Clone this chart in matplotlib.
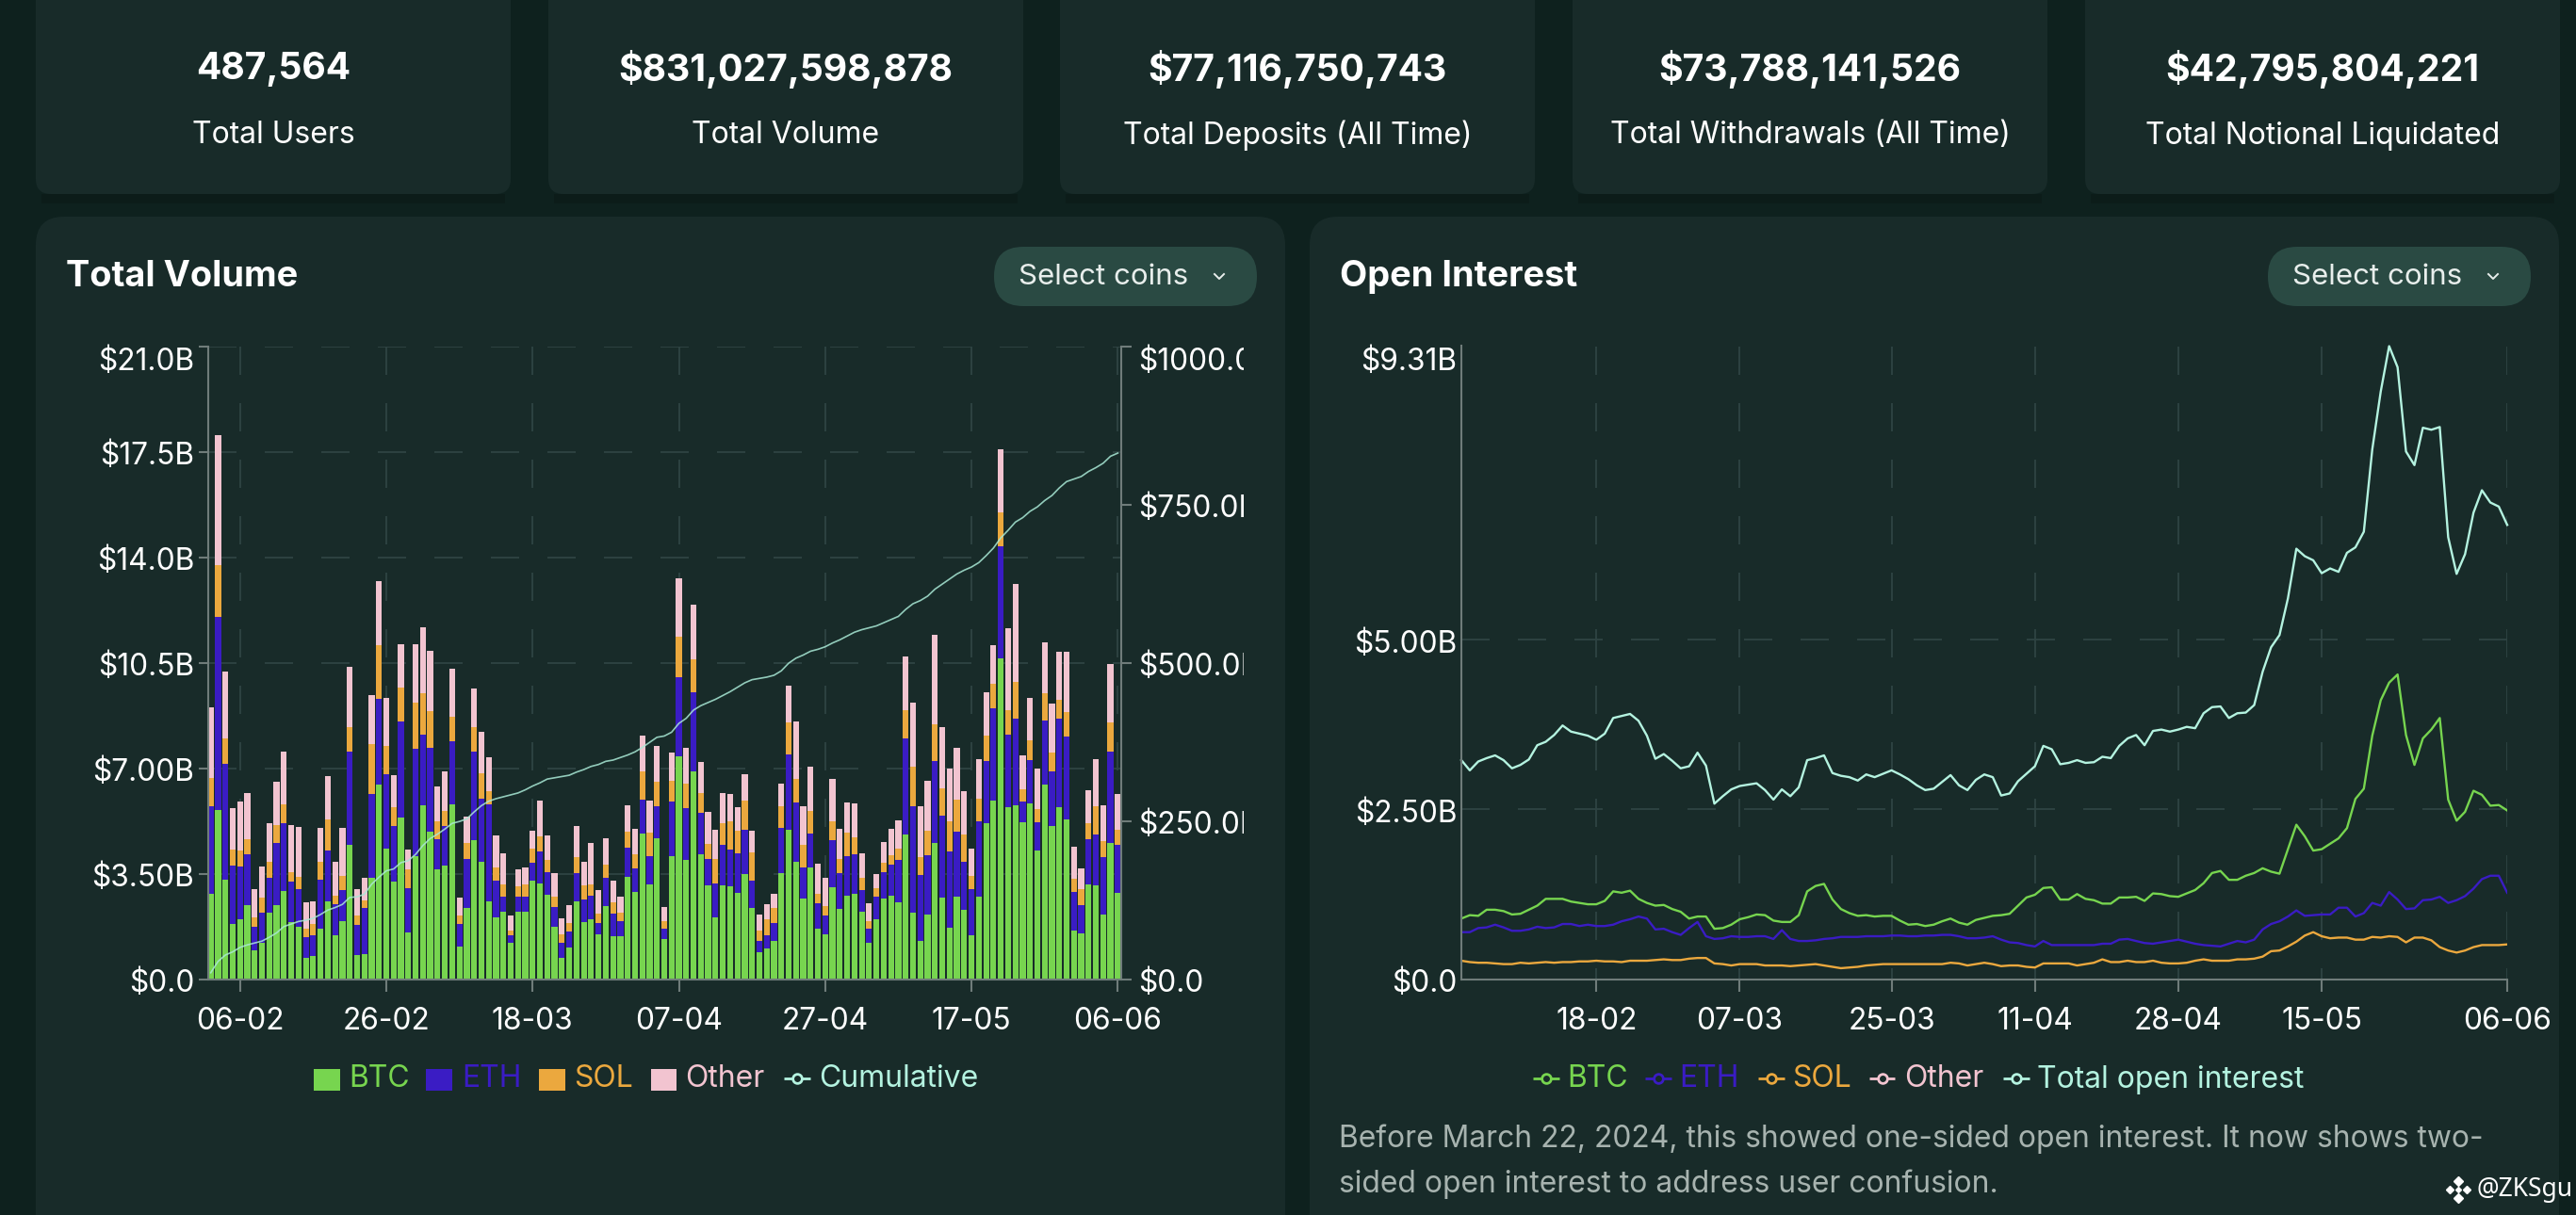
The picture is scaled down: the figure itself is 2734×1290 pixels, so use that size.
#!/usr/bin/env python3
"""Dashboard screenshot: stat cards, total volume bars and open interest lines."""

import matplotlib
matplotlib.use("Agg")
import matplotlib.pyplot as plt
import numpy as np
from matplotlib.patches import FancyBboxPatch, Rectangle
from matplotlib.transforms import Bbox, ScaledTranslation

W, H = 2734, 1290

PAGE = "#0e211e"
CARD = "#182b29"
BUTTON = "#2a4a43"
GRID = "#2f4443"
AXIS = "#6f7c7a"
C_BTC = "#77d54f"
C_ETH = "#3a1cc4"
C_SOL = "#eba83e"
C_OTHER = "#f2c4d0"
C_CUM = "#a9e9d6"
C_TOTAL = "#b4f3e0"

stat_values = ["487,564", "$831,027,598,878", "$77,116,750,743", "$73,788,141,526", "$42,795,804,221"]
stat_labels = ["Total Users", "Total Volume", "Total Deposits (All Time)",
               "Total Withdrawals (All Time)", "Total Notional Liquidated"]

# daily volume in $B
btc_volume = [
    2.84, 5.61, 3.29, 1.83, 1.97, 2.45, 0.95, 1.20, 2.19, 2.45,
    2.93, 1.90, 1.74, 0.71, 0.77, 1.67, 2.59, 1.45, 1.92, 4.46,
    0.81, 0.84, 3.37, 6.46, 4.34, 3.22, 5.35, 1.55, 4.09, 5.77,
    4.88, 3.64, 3.76, 5.81, 1.07, 2.37, 4.60, 3.89, 2.59, 2.06,
    2.22, 1.20, 2.23, 2.22, 3.28, 3.17, 2.80, 1.73, 0.71, 1.05,
    2.57, 1.90, 1.98, 1.49, 2.43, 1.42, 1.41, 3.40, 2.89, 4.82,
    3.15, 4.67, 1.32, 4.07, 7.39, 3.95, 6.89, 4.13, 3.11, 2.05,
    3.12, 3.08, 2.86, 3.49, 2.37, 0.88, 1.02, 1.27, 3.51, 4.94,
    3.89, 2.66, 3.70, 1.67, 1.49, 3.05, 2.33, 2.76, 2.83, 2.24,
    1.21, 1.97, 2.66, 2.76, 2.55, 4.80, 2.20, 1.27, 2.13, 4.52,
    2.71, 1.70, 2.75, 2.30, 1.45, 2.72, 5.17, 5.93, 10.64, 5.70,
    5.76, 5.20, 5.83, 4.27, 6.46, 5.08, 5.69, 5.31, 1.60, 1.53,
    3.15, 3.11, 2.15, 4.52, 2.86,
]
eth_volume = [
    2.89, 6.41, 3.85, 1.94, 1.76, 1.69, 0.78, 0.99, 1.17, 2.08,
    2.23, 1.34, 1.24, 0.68, 0.67, 1.62, 1.67, 1.02, 1.03, 3.10,
    1.00, 1.53, 2.76, 2.84, 2.45, 1.87, 3.19, 1.48, 3.54, 2.33,
    2.80, 1.00, 1.32, 2.08, 0.75, 1.62, 2.96, 2.11, 3.22, 1.20,
    0.53, 0.25, 0.50, 0.52, 0.59, 1.05, 0.75, 0.67, 0.50, 0.54,
    0.95, 0.75, 0.78, 0.38, 0.93, 0.74, 0.52, 0.95, 0.79, 1.13,
    0.92, 1.06, 0.35, 1.83, 2.64, 1.72, 2.64, 1.38, 0.88, 1.12,
    1.32, 1.21, 1.32, 1.46, 0.89, 0.39, 0.43, 0.59, 1.51, 2.51,
    1.97, 1.05, 1.14, 0.84, 0.61, 1.56, 1.20, 1.32, 1.30, 0.71,
    0.46, 0.78, 0.88, 1.03, 1.39, 3.18, 3.53, 2.18, 1.98, 2.72,
    2.71, 2.55, 2.15, 1.60, 1.53, 2.50, 2.06, 3.07, 3.72, 2.41,
    2.87, 0.68, 1.45, 0.92, 2.12, 1.81, 2.94, 2.73, 1.28, 0.91,
    1.49, 1.69, 1.91, 3.04, 1.58,
]
sol_volume = [
    0.93, 1.73, 0.86, 0.53, 0.54, 0.50, 0.32, 0.52, 0.52, 0.57,
    0.63, 0.31, 0.42, 0.29, 0.39, 0.61, 1.03, 0.31, 0.47, 0.79,
    0.29, 0.24, 1.66, 1.78, 0.96, 0.60, 1.14, 0.60, 1.55, 1.38,
    1.21, 0.59, 0.49, 0.81, 0.28, 0.54, 0.79, 0.82, 0.42, 0.43,
    0.40, 0.17, 0.36, 0.39, 0.45, 0.50, 0.40, 0.32, 0.26, 0.26,
    0.54, 0.47, 0.39, 0.29, 0.43, 0.40, 0.28, 0.53, 0.47, 0.93,
    0.78, 0.82, 0.26, 0.67, 1.32, 0.82, 1.07, 0.66, 0.49, 0.82,
    0.74, 0.93, 0.73, 0.96, 0.93, 0.33, 0.52, 0.49, 0.71, 1.06,
    0.79, 0.75, 0.73, 0.32, 0.32, 0.64, 0.45, 0.78, 0.57, 0.42,
    0.24, 0.26, 0.32, 0.31, 0.39, 0.93, 1.32, 0.60, 0.81, 1.21,
    0.92, 0.99, 1.05, 0.89, 0.45, 0.77, 0.86, 0.79, 1.14, 0.81,
    1.24, 0.42, 0.64, 0.45, 0.91, 0.64, 0.64, 0.81, 0.46, 0.54,
    0.54, 0.92, 0.52, 0.96, 0.50,
]
other_volume = [
    2.36, 4.31, 2.20, 1.38, 1.62, 1.52, 0.93, 1.02, 1.28, 1.46,
    1.77, 1.55, 1.65, 0.86, 0.74, 1.13, 1.46, 1.10, 1.59, 2.01,
    0.89, 0.74, 1.62, 2.11, 1.59, 1.09, 1.44, 0.66, 1.92, 2.19,
    2.01, 1.16, 1.31, 1.60, 0.59, 0.85, 1.30, 1.39, 1.13, 1.09,
    1.03, 0.50, 0.54, 0.57, 0.60, 1.20, 0.82, 0.79, 0.56, 0.60,
    1.02, 0.78, 1.38, 0.79, 0.88, 0.71, 0.54, 0.88, 0.84, 1.20,
    1.06, 1.17, 0.47, 0.95, 1.94, 1.17, 1.83, 1.03, 1.06, 0.95,
    1.00, 0.93, 0.78, 0.89, 0.73, 0.54, 0.50, 0.47, 0.77, 1.21,
    1.91, 1.28, 1.48, 0.99, 0.95, 1.39, 0.99, 0.99, 1.12, 0.79,
    0.61, 0.49, 0.70, 0.88, 0.95, 1.80, 2.12, 1.70, 1.65, 2.98,
    2.02, 1.74, 1.73, 1.46, 0.91, 1.31, 1.42, 1.30, 2.08, 2.71,
    3.25, 1.12, 1.42, 1.35, 1.67, 1.60, 1.58, 2.01, 1.05, 0.70,
    1.09, 1.58, 1.20, 1.92, 1.19,
]
cumulative = [
    10, 28, 38, 43, 50, 54, 57, 60, 66, 73,
    83, 87, 91, 93, 96, 102, 109, 113, 118, 129,
    130, 134, 150, 161, 171, 174, 184, 187, 197, 211,
    222, 229, 237, 246, 249, 253, 264, 274, 281, 285,
    288, 291, 294, 299, 305, 310, 316, 318, 320, 322,
    327, 331, 336, 339, 344, 346, 350, 354, 359, 366,
    374, 382, 384, 390, 404, 412, 425, 432, 437, 442,
    448, 454, 461, 468, 473, 475, 477, 480, 487, 499,
    507, 512, 518, 521, 525, 531, 536, 542, 548, 552,
    555, 558, 563, 568, 573, 584, 593, 598, 605, 616,
    624, 632, 640, 646, 651, 658, 669, 681, 697, 709,
    722, 729, 739, 746, 756, 764, 776, 786, 790, 794,
    802, 808, 815, 826, 831,
]
volume_tick_idx = [4, 24, 44, 64, 84, 104, 124]
volume_tick_labels = ["06-02", "26-02", "18-03", "07-04", "27-04", "17-05", "06-06"]
volume_yticks = [3.5, 7.0, 10.5, 14.0, 17.5]
volume_ylabels = ["$3.50B", "$7.00B", "$10.5B", "$14.0B", "$17.5B"]
cum_yticks = [250, 500, 750]
cum_ylabels = ["$250.0B", "$500.0B", "$750.0B"]

# open interest in $B
oi_total = [
    3.22, 3.07, 3.20, 3.25, 3.29, 3.22, 3.10, 3.15, 3.23, 3.44,
    3.49, 3.59, 3.73, 3.64, 3.61, 3.58, 3.52, 3.61, 3.84, 3.87,
    3.90, 3.80, 3.58, 3.24, 3.31, 3.21, 3.10, 3.13, 3.33, 3.14,
    2.58, 2.69, 2.79, 2.84, 2.86, 2.88, 2.78, 2.64, 2.79, 2.69,
    2.82, 3.22, 3.25, 3.29, 3.03, 2.99, 2.97, 2.92, 3.01, 2.97,
    3.02, 3.07, 3.01, 2.94, 2.85, 2.78, 2.80, 2.90, 3.00, 2.85,
    2.78, 2.93, 3.01, 2.97, 2.70, 2.73, 2.91, 3.02, 3.13, 3.43,
    3.38, 3.16, 3.18, 3.22, 3.18, 3.19, 3.27, 3.25, 3.43, 3.54,
    3.59, 3.44, 3.65, 3.67, 3.64, 3.67, 3.71, 3.69, 3.91, 4.00,
    4.01, 3.84, 3.91, 3.92, 4.03, 4.52, 4.88, 5.06, 5.60, 6.33,
    6.22, 6.16, 5.97, 6.04, 5.99, 6.27, 6.35, 6.58, 7.79, 8.64,
    9.31, 9.00, 7.76, 7.56, 8.11, 8.08, 8.12, 6.50, 5.96, 6.25,
    6.86, 7.19, 7.01, 6.95, 6.68,
]
oi_btc = [
    0.89, 0.94, 0.93, 1.02, 1.02, 1.00, 0.95, 0.96, 1.02, 1.08,
    1.18, 1.18, 1.18, 1.14, 1.12, 1.10, 1.10, 1.15, 1.29, 1.27,
    1.30, 1.18, 1.12, 1.08, 1.09, 1.03, 0.99, 0.89, 0.92, 0.92,
    0.74, 0.75, 0.80, 0.88, 0.91, 0.95, 0.94, 0.86, 0.84, 0.84,
    0.94, 1.29, 1.37, 1.40, 1.17, 1.03, 0.97, 0.93, 0.94, 0.92,
    0.93, 0.93, 0.86, 0.80, 0.81, 0.78, 0.80, 0.85, 0.89, 0.83,
    0.80, 0.87, 0.90, 0.93, 0.94, 0.96, 1.08, 1.20, 1.24, 1.34,
    1.35, 1.17, 1.17, 1.25, 1.18, 1.16, 1.11, 1.11, 1.20, 1.20,
    1.21, 1.15, 1.26, 1.25, 1.22, 1.21, 1.26, 1.31, 1.41, 1.56,
    1.59, 1.46, 1.46, 1.52, 1.56, 1.63, 1.58, 1.55, 1.91, 2.27,
    2.10, 1.89, 1.91, 1.99, 2.07, 2.22, 2.65, 2.80, 3.58, 4.10,
    4.36, 4.48, 3.59, 3.15, 3.54, 3.67, 3.84, 2.64, 2.33, 2.46,
    2.77, 2.71, 2.55, 2.56, 2.48,
]
oi_eth = [
    0.69, 0.69, 0.75, 0.76, 0.80, 0.76, 0.71, 0.71, 0.73, 0.77,
    0.75, 0.76, 0.81, 0.81, 0.78, 0.80, 0.78, 0.78, 0.80, 0.85,
    0.88, 0.92, 0.89, 0.73, 0.74, 0.69, 0.65, 0.75, 0.84, 0.63,
    0.59, 0.60, 0.63, 0.62, 0.62, 0.63, 0.63, 0.59, 0.72, 0.59,
    0.56, 0.56, 0.57, 0.59, 0.60, 0.62, 0.62, 0.62, 0.63, 0.63,
    0.63, 0.64, 0.64, 0.63, 0.63, 0.64, 0.64, 0.65, 0.65, 0.63,
    0.60, 0.60, 0.61, 0.63, 0.58, 0.54, 0.53, 0.50, 0.48, 0.56,
    0.50, 0.50, 0.50, 0.50, 0.50, 0.50, 0.52, 0.52, 0.58, 0.59,
    0.56, 0.53, 0.52, 0.54, 0.56, 0.58, 0.55, 0.52, 0.50, 0.49,
    0.48, 0.52, 0.56, 0.54, 0.58, 0.73, 0.81, 0.85, 0.92, 1.01,
    0.93, 0.94, 0.95, 0.95, 1.05, 1.05, 0.92, 0.97, 1.12, 1.08,
    1.28, 1.17, 1.03, 1.04, 1.16, 1.17, 1.21, 1.12, 1.16, 1.22,
    1.33, 1.47, 1.52, 1.52, 1.27,
]
oi_sol = [
    0.27, 0.25, 0.24, 0.24, 0.23, 0.22, 0.22, 0.24, 0.23, 0.24,
    0.25, 0.24, 0.25, 0.25, 0.26, 0.26, 0.27, 0.26, 0.26, 0.25,
    0.27, 0.27, 0.27, 0.28, 0.29, 0.28, 0.28, 0.30, 0.31, 0.31,
    0.23, 0.22, 0.20, 0.22, 0.22, 0.22, 0.20, 0.20, 0.20, 0.19,
    0.20, 0.21, 0.22, 0.20, 0.18, 0.16, 0.17, 0.18, 0.20, 0.21,
    0.22, 0.22, 0.22, 0.22, 0.22, 0.22, 0.22, 0.22, 0.24, 0.23,
    0.20, 0.22, 0.24, 0.22, 0.19, 0.20, 0.20, 0.18, 0.17, 0.23,
    0.23, 0.23, 0.23, 0.20, 0.22, 0.24, 0.29, 0.25, 0.25, 0.27,
    0.25, 0.25, 0.27, 0.24, 0.23, 0.23, 0.24, 0.27, 0.29, 0.27,
    0.27, 0.27, 0.29, 0.29, 0.30, 0.33, 0.41, 0.42, 0.48, 0.55,
    0.64, 0.69, 0.63, 0.60, 0.61, 0.61, 0.58, 0.58, 0.62, 0.61,
    0.63, 0.62, 0.54, 0.61, 0.61, 0.57, 0.47, 0.42, 0.39, 0.42,
    0.47, 0.50, 0.50, 0.50, 0.51,
]
oi_tick_idx = [16, 33, 51, 68, 85, 102, 124]
oi_tick_labels = ["18-02", "07-03", "25-03", "11-04", "28-04", "15-05", "06-06"]
oi_yticks = [2.5, 5.0]
oi_ylabels = ["$2.50B", "$5.00B"]

plt.rcParams["font.family"] = ["Inter", "DejaVu Sans"]
plt.rcParams["lines.scale_dashes"] = False

DASH = 30 * 72 / 100  # 30 px on, 30 px off
HGRID = (0, (DASH, DASH))
VGRID = (18 * 72 / 100, (DASH, DASH))  # drawn upwards, ends on a full dash at the top of the plot
TICK_SIZE = 22.8
LEGEND_SIZE = 23
NOTE_SIZE = 22.9


def add_axes_px(x0, y0, x1, y1, **kwargs):
    return fig.add_axes([x0 / W, 1 - y1 / H, (x1 - x0) / W, (y1 - y0) / H], **kwargs)


fig = plt.figure(figsize=(W / 100, H / 100), dpi=100, facecolor=PAGE)

# page layer in pixel coordinates
page = fig.add_axes([0, 0, 1, 1], zorder=0)
page.set_xlim(0, W)
page.set_ylim(H, 0)
page.axis("off")


def round_box(x0, y0, x1, y1, radius, color):
    page.add_patch(FancyBboxPatch((x0 + radius, y0 + radius), x1 - x0 - 2 * radius, y1 - y0 - 2 * radius,
                                  boxstyle=f"round,pad={radius},rounding_size={radius}",
                                  fc=color, ec="none"))


card_lefts = [38, 582, 1125, 1669, 2213]
for left, value, label in zip(card_lefts, stat_values, stat_labels):
    page.add_patch(Rectangle((left + 6, 206), 492, 10, fc="#0c1c19", ec="none"))
    round_box(left, -20, left + 504, 206, 16, CARD)
    page.text(left + 252, 73, value, color="white", fontsize=28.2, fontweight="bold", ha="center", va="center")
    page.text(left + 252, 144, label, color="white", fontsize=23, ha="center", va="center")

for left, title in [(38, "Total Volume"), (1390, "Open Interest")]:
    round_box(left, 230, left + 1326, 1340, 30, CARD)
    page.text(left + 32, 294, title, color="white", fontsize=27.3, fontweight="bold", ha="left", va="center")
    round_box(left + 1017, 262, left + 1296, 325, 31, BUTTON)
    page.text(left + 1043, 294, "Select coins", color="#e8eeec", fontsize=22.5, ha="left", va="center")
    page.plot([left + 1251, left + 1256, left + 1261], [291, 296, 291], color="#e8eeec", lw=1.4)


def legend_text(x, y, text, color):
    page.text(x, y, text, color=color, fontsize=LEGEND_SIZE, ha="left", va="center")


def legend_square(x0, x1, color, label, text_x):
    page.add_patch(Rectangle((x0, 1135), x1 - x0, 23, fc=color, ec="none"))
    legend_text(text_x, 1146, label, color)


def legend_marker(x0, x1, color, label, text_x):
    page.plot([x0, x1], [1145, 1145], color=color, lw=2, solid_capstyle="butt")
    page.plot([(x0 + x1) / 2], [1145], marker="o", ms=7, mfc=CARD, mec=color, mew=2, ls="none")
    legend_text(text_x, 1146, label, color)


legend_square(333, 361, C_BTC, "BTC", 370)
legend_square(452, 480, C_ETH, "ETH", 490)
legend_square(572, 600, C_SOL, "SOL", 609)
legend_square(691, 718, C_OTHER, "Other", 727)
legend_marker(832, 860, C_TOTAL, "Cumulative", 869)

legend_marker(1627, 1655, C_BTC, "BTC", 1663)
legend_marker(1746, 1774, C_ETH, "ETH", 1782)
legend_marker(1866, 1894, C_SOL, "SOL", 1902)
legend_marker(1984, 2011, C_OTHER, "Other", 2021)
legend_marker(2126, 2154, C_TOTAL, "Total open interest", 2162)

note_color = "#a7b3af"
page.text(1421, 1209, "Before March 22, 2024, this showed one-sided open interest. It now shows two-",
          color=note_color, fontsize=NOTE_SIZE, ha="left", va="center")
page.text(1421, 1257, "sided open interest to address user confusion.",
          color=note_color, fontsize=NOTE_SIZE, ha="left", va="center")

# watermark
for dx, dy, ms in [(0, 0, 3), (-9, 0, 4), (9, 0, 4), (0, -9, 5), (0, 9, 5)]:
    page.plot([2609 + dx], [1263 + dy], marker="D", ms=ms, color="white", ls="none")
page.text(2628, 1263, "@ZKSgu", color="white", fontsize=19, family="Noto Sans", ha="left", va="center")


def style_axes(ax, left_spine=True):
    ax.patch.set_alpha(0)
    for side in ax.spines:
        ax.spines[side].set_visible(False)
    ax.spines["bottom"].set_visible(True)
    ax.spines["bottom"].set_color(AXIS)
    ax.spines["bottom"].set_linewidth(1.5)
    ax.spines["left"].set_visible(left_spine)
    ax.spines["left"].set_color(AXIS)
    ax.spines["left"].set_linewidth(1.5)
    ax.set_axisbelow(True)
    ax.grid(axis="y", color=GRID, lw=1.3, linestyle=HGRID)
    ax.grid(axis="x", color=GRID, lw=1.3, linestyle=VGRID)


def nudge_ylabels(ax, px_down):
    # y tick labels sit slightly below their ticks in the screenshot
    offset = ScaledTranslation(0, -px_down / 100, fig.dpi_scale_trans)
    for label in ax.get_yticklabels():
        label.set_transform(label.get_transform() + offset)


# volume bars
ax = add_axes_px(220.5, 367.5, 1190, 1039.5, zorder=1)
style_axes(ax)
x = np.arange(len(btc_volume))
bottom = np.zeros(len(x))
for values, color in [(btc_volume, C_BTC), (eth_volume, C_ETH), (sol_volume, C_SOL), (other_volume, C_OTHER)]:
    ax.bar(x, values, bottom=bottom, width=0.8, color=color, linewidth=0)
    bottom += np.array(values)
ax.set_xlim(-0.41, 124.47)
ax.set_ylim(0, 21)
ax.set_xticks(volume_tick_idx, volume_tick_labels)
ax.set_yticks([0] + volume_yticks + [21], ["$0.0"] + volume_ylabels + [""])
ax.tick_params(axis="x", length=9, width=1.5, color=AXIS, labelcolor="white", labelsize=TICK_SIZE, pad=12.5)
ax.tick_params(axis="y", length=7.2, width=1.5, color=AXIS, labelcolor="white", labelsize=TICK_SIZE, pad=3)
ax.annotate("$21.0B", xy=(0, 21), xycoords=("axes fraction", "data"), xytext=(-10.2, -12),
            textcoords="offset points", color="white", fontsize=TICK_SIZE, ha="right", va="center")
nudge_ylabels(ax, 2)

ax_cum = ax.twinx()
ax_cum.patch.set_alpha(0)
for side in ax_cum.spines:
    ax_cum.spines[side].set_visible(False)
ax_cum.spines["right"].set_visible(True)
ax_cum.spines["right"].set_color(AXIS)
ax_cum.spines["right"].set_linewidth(1.5)
ax_cum.plot(x, cumulative, color=C_CUM, lw=1.2, alpha=0.85)
ax_cum.set_ylim(0, 1000)
ax_cum.set_yticks([0] + cum_yticks + [1000], ["$0.0"] + cum_ylabels + [""])
ax_cum.tick_params(axis="y", length=8, width=1.5, color=AXIS, labelcolor="white", labelsize=TICK_SIZE, pad=5)

# the screenshot cuts the right axis labels off
fig.canvas.draw()
clip_box = Bbox.from_extents(0, 0, 1320, H)
top_label = ax_cum.annotate("$1000.0B", xy=(1, 1000), xycoords=("axes fraction", "data"), xytext=(13, -12),
                            textcoords="offset points", color="white", fontsize=TICK_SIZE, ha="left", va="center")
top_label.set_clip_box(clip_box)
top_label.set_clip_on(True)
nudge_ylabels(ax_cum, 2)
for label in ax_cum.get_yticklabels():
    label.set_clip_box(clip_box)
    label.set_clip_on(True)

# open interest lines
ax_oi = add_axes_px(1551, 367.5, 2661, 1039.5, zorder=1)
style_axes(ax_oi)
days = np.arange(len(oi_total))
ax_oi.plot(days, oi_sol, color=C_SOL, lw=1.7)
ax_oi.plot(days, oi_eth, color=C_ETH, lw=1.7)
ax_oi.plot(days, oi_btc, color=C_BTC, lw=1.7)
ax_oi.plot(days, oi_total, color=C_TOTAL, lw=1.7, clip_on=False)
ax_oi.set_xlim(0, 124)
ax_oi.set_ylim(0, 9.31)
ax_oi.set_xticks(oi_tick_idx, oi_tick_labels)
ax_oi.set_yticks([0] + oi_yticks + [9.31], ["$0.0"] + oi_ylabels + [""])
ax_oi.tick_params(axis="x", length=9, width=1.5, color=AXIS, labelcolor="white", labelsize=TICK_SIZE, pad=12.5)
ax_oi.tick_params(axis="y", length=0, labelcolor="white", labelsize=TICK_SIZE, pad=3.5)
ax_oi.annotate("$9.31B", xy=(0, 9.31), xycoords=("axes fraction", "data"), xytext=(-3.5, -12),
               textcoords="offset points", color="white", fontsize=TICK_SIZE, ha="right", va="center")
nudge_ylabels(ax_oi, 2)

fig.savefig("out.png", dpi=100, facecolor=PAGE)
